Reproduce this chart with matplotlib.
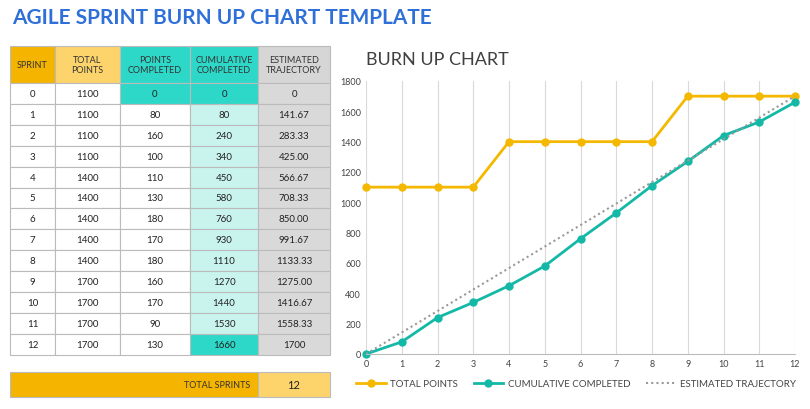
import matplotlib
matplotlib.use("Agg")
import matplotlib.pyplot as plt
from matplotlib.patches import Rectangle

sprints = list(range(13))
total_points = [1100, 1100, 1100, 1100, 1400, 1400, 1400, 1400, 1400, 1700, 1700, 1700, 1700]
points_completed = [0, 80, 160, 100, 110, 130, 180, 170, 180, 160, 170, 90, 130]
cumulative = [0, 80, 240, 340, 450, 580, 760, 930, 1110, 1270, 1440, 1530, 1660]
trajectory = [0, 141.67, 283.33, 425.00, 566.67, 708.33, 850.00, 991.67, 1133.33, 1275.00, 1416.67, 1558.33, 1700]
headers = ["SPRINT", "TOTAL\nPOINTS", "POINTS\nCOMPLETED", "CUMULATIVE\nCOMPLETED", "ESTIMATED\nTRAJECTORY"]

plt.rcParams["font.family"] = ["Lato", "DejaVu Sans"]
GOLD = "#F5B800"
TEAL = "#14B8A6"

fig = plt.figure(figsize=(8.1, 4.1), dpi=100)

# overlay in pixel coords for table + title
ov = fig.add_axes([0, 0, 1, 1])
ov.set_xlim(0, 810)
ov.set_ylim(410, 0)
ov.axis("off")

ov.text(12, 18, "AGILE SPRINT BURN UP CHART TEMPLATE", fontsize=15, fontweight="bold",
        color="#2E6FD8", va="center")

cols = [10, 55, 120, 190, 258, 330]
head_colors = ["#F5B400", "#FDD46B", "#2ED8C8", "#2ED8C8", "#D6D6D6"]
top, head_h, row_h = 47, 37, 20.9
for j, h in enumerate(headers):
    ov.add_patch(Rectangle((cols[j], top), cols[j + 1] - cols[j], head_h,
                           facecolor=head_colors[j], edgecolor="#BBBBBB", lw=0.8))
    ov.text((cols[j] + cols[j + 1]) / 2, top + head_h / 2, h, ha="center", va="center",
            fontsize=6.5, color="#333333", linespacing=1.1)

for i in sprints:
    y = top + head_h + i * row_h
    vals = [str(i), str(total_points[i]), str(points_completed[i]), str(cumulative[i]),
            "0" if i == 0 else ("1700" if i == 12 else f"{trajectory[i]:.2f}")]
    fills = ["white", "white", "white", "#C9F4EE", "#D9D9D9"]
    if i == 0:
        fills[2] = "#2ED8C8"
        fills[3] = "#2ED8C8"
    if i == 12:
        fills[3] = "#2ED8C8"
    for j, v in enumerate(vals):
        ov.add_patch(Rectangle((cols[j], y), cols[j + 1] - cols[j], row_h,
                               facecolor=fills[j], edgecolor="#BBBBBB", lw=0.8))
        ov.text((cols[j] + cols[j + 1]) / 2, y + row_h / 2, v, ha="center", va="center",
                fontsize=7, color="#222222")

ov.add_patch(Rectangle((10, 373), 248, 25, facecolor="#F5B400", edgecolor="#BBBBBB", lw=0.8))
ov.add_patch(Rectangle((258, 373), 72, 25, facecolor="#FDD46B", edgecolor="#BBBBBB", lw=0.8))
ov.text(250, 385.5, "TOTAL SPRINTS", ha="right", va="center", fontsize=6.5, color="#333333")
ov.text(294, 385.5, str(len(sprints) - 1), ha="center", va="center", fontsize=8, color="#222222")

ov.text(366, 60, "BURN UP CHART", fontsize=13, color="#404040", va="center")

# chart
ax = fig.add_axes([366 / 810, 1 - 355 / 410, (795 - 366) / 810, (355 - 82) / 410])
ax.plot(sprints, total_points, color=GOLD, lw=2, marker="o", ms=5, label="TOTAL POINTS", clip_on=False)
ax.plot(sprints, cumulative, color=TEAL, lw=2, marker="o", ms=5, label="CUMULATIVE COMPLETED", clip_on=False)
ax.plot(sprints, trajectory, color="#999999", lw=1.5, ls=(0, (1, 1.5)), label="ESTIMATED TRAJECTORY")
ax.set_xlim(0, 12)
ax.set_ylim(0, 1800)
ax.set_xticks(sprints)
ax.set_yticks(range(0, 1801, 200))
ax.tick_params(labelsize=6.5, colors="#444444", length=0)
ax.grid(axis="x", color="#D9D9D9", lw=0.8)
for s in ["top", "right", "left"]:
    ax.spines[s].set_visible(False)
ax.spines["bottom"].set_color("#BBBBBB")
ax.legend(loc="upper center", bbox_to_anchor=(0.49, -0.06), ncol=3, frameon=False,
          fontsize=7, handlelength=3, columnspacing=1.6, handletextpad=0.5,
          labelcolor="#444444")

fig.savefig("out.png", dpi=100)
